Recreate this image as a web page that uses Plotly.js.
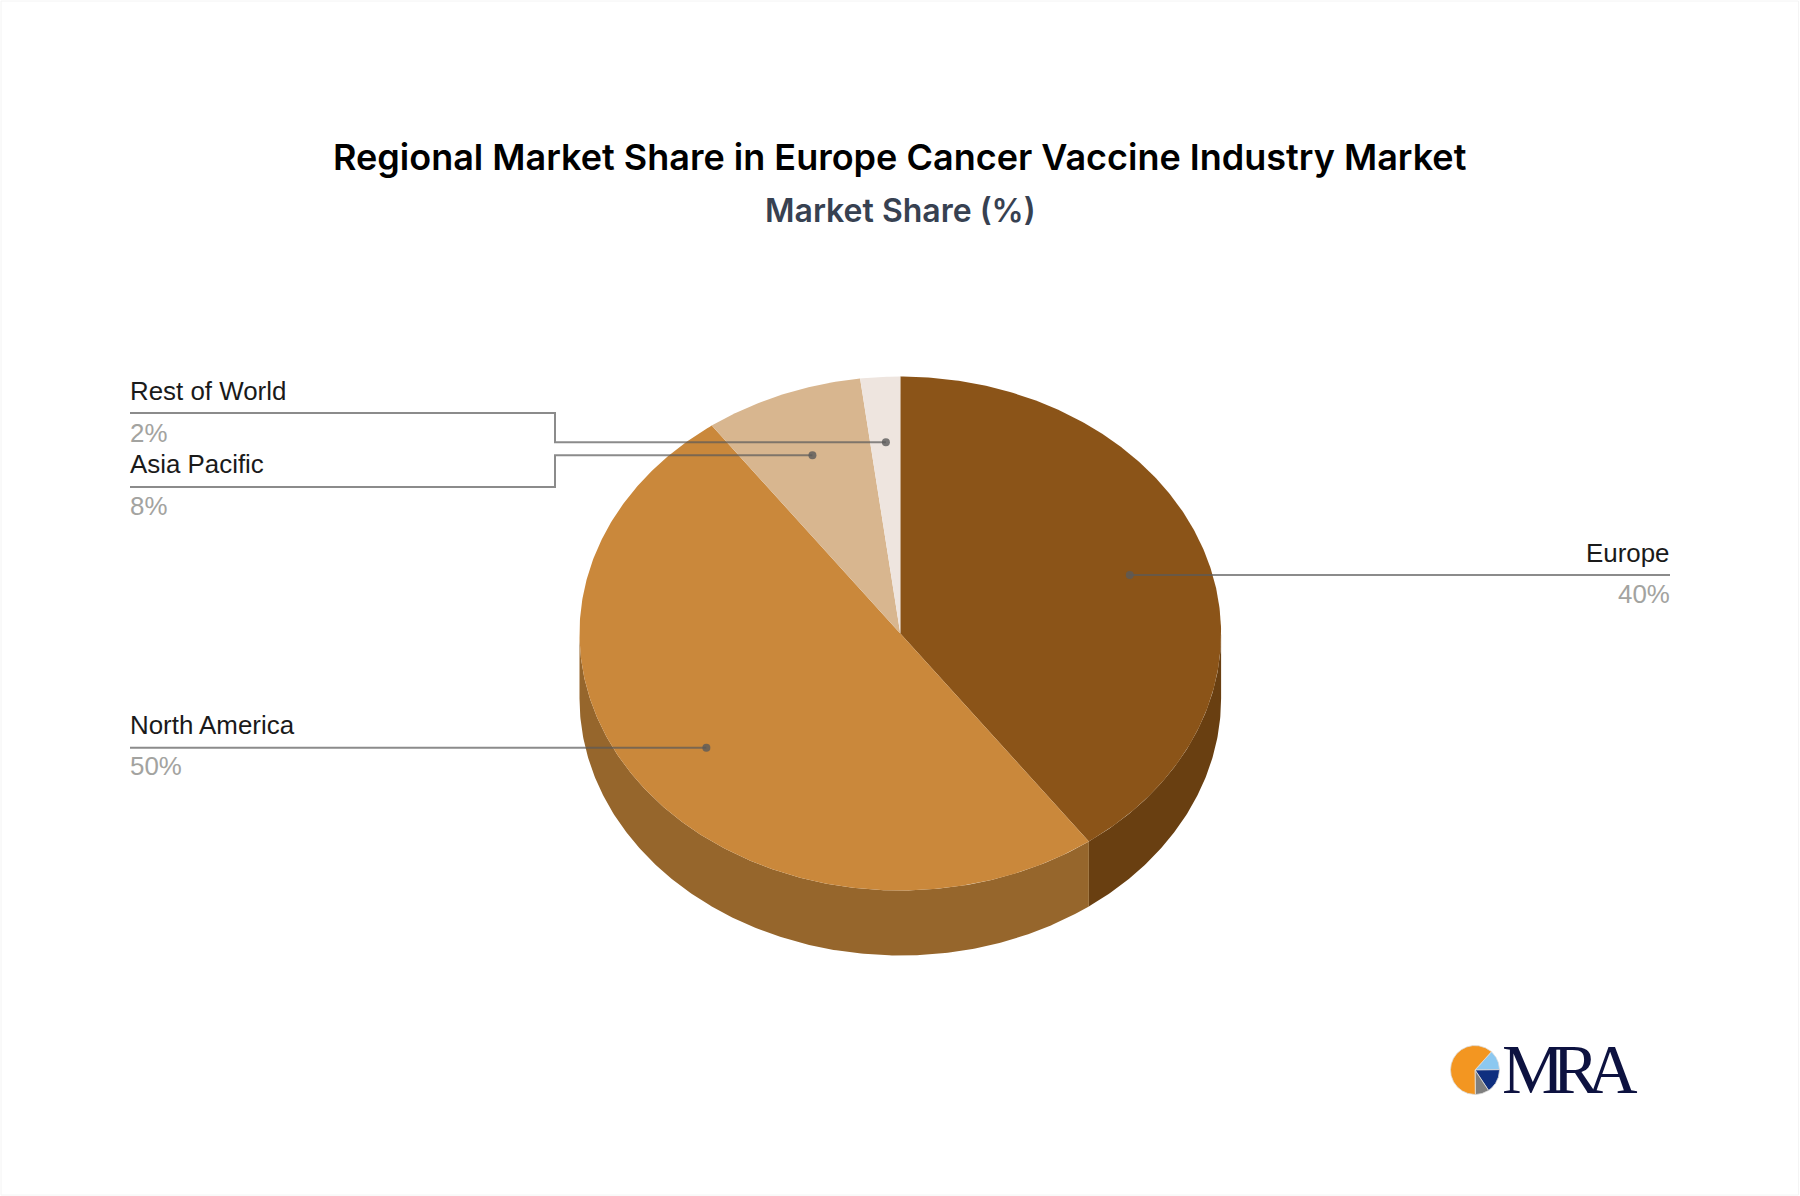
<!DOCTYPE html>
<html><head><meta charset="utf-8">
<script src="https://cdn.plot.ly/plotly-3.0.1.min.js"></script>
<style>html,body{margin:0;padding:0;background:#fff}#chart{width:1800px;height:1196px}</style>
</head><body><div id="chart"></div>
<script>
const categories = ['Europe', 'North America', 'Asia Pacific', 'Rest of World'];
const shares = [40, 50, 8, 2];
const topColors = ['#8B5418', '#CA883B', '#D8B68F', '#EEE5DF'];
const sideColors = ['#693F11', '#96662C'];
const logoShares = [13, 16, 9, 62];
const logoColors = ['#8CC8F0', '#0F2F7F', '#7F7F7F', '#F39621'];

const CX = 900.3, CY = 633.5, RX = 320.8, RY = 257, DEPTH = 65;
const rad = d => d * Math.PI / 180;
const px = (a, f = 1, rx = RX, cx = CX) => cx + rx * f * Math.sin(rad(a));
const py = (a, f = 1, ry = RY, cy = CY) => cy - ry * f * Math.cos(rad(a));

function arc(a0, a1, rx, ry, cx, cy, off) {
  const xs = [], ys = [];
  const n = Math.max(2, Math.ceil(Math.abs(a1 - a0) * 2));
  for (let i = 0; i <= n; i++) {
    const a = a0 + (a1 - a0) * i / n;
    xs.push(px(a, 1, rx, cx));
    ys.push(py(a, 1, ry, cy) + off);
  }
  return [xs, ys];
}
function fillTrace(xs, ys, color, name, lw, lc) {
  return { type: 'scatter', mode: 'lines', x: xs, y: ys, fill: 'toself', fillcolor: color,
           line: { width: lw || 0, color: lc || color }, hoverinfo: 'skip', name: name, showlegend: false };
}

const total = shares.reduce((s, v) => s + v, 0);
const starts = [];
shares.reduce((acc, v, i) => { starts[i] = acc; return acc + v / total * 360; }, 0);
const ends = shares.map((v, i) => starts[i] + v / total * 360);
const mids = shares.map((v, i) => (starts[i] + ends[i]) / 2);

const traces = [];
[0, 1].forEach(i => {
  const a0 = Math.max(starts[i], 90), a1 = Math.min(ends[i], 270);
  const [tx, ty] = arc(a0, a1, RX, RY, CX, CY, 0);
  const [bx, by] = arc(a1, a0, RX, RY, CX, CY, DEPTH);
  traces.push(fillTrace(tx.concat(bx), ty.concat(by), sideColors[i], categories[i] + ' side'));
});
categories.forEach((c, i) => {
  const [ax, ay] = arc(starts[i], ends[i], RX, RY, CX, CY, 0);
  traces.push(fillTrace([CX].concat(ax, [CX]), [CY].concat(ay, [CY]), topColors[i], c));
});

const LEFT = 130, RIGHT = 1670, BEND = 555;
const leaderY = { 'Europe': 575, 'North America': 747, 'Asia Pacific': 487, 'Rest of World': 413 };
const lineColor = 'rgba(90,90,90,0.7)';
categories.forEach((c, i) => {
  const dx = px(mids[i], 0.75) + 0.7, dy = py(mids[i], 0.75) + 1;
  const ly = leaderY[c];
  let xs, ys;
  if (c === 'Europe' || c === 'North America') {
    xs = [c === 'Europe' ? RIGHT : LEFT, dx]; ys = [dy, dy];
  } else {
    xs = [LEFT, BEND, BEND, dx]; ys = [ly, ly, dy, dy];
  }
  traces.push({ type: 'scatter', mode: 'lines', x: xs, y: ys, hoverinfo: 'skip', showlegend: false,
                line: { color: lineColor, width: 2 } });
  traces.push({ type: 'scatter', mode: 'markers', x: [dx], y: [dy], hoverinfo: 'skip', showlegend: false,
                marker: { color: 'rgba(90,90,90,0.8)', size: 8, line: { width: 0 } } });
});

const LX = 1475, LY = 1070, LR = 24.5;
let la = 42;
logoShares.forEach((v, i) => {
  const a1 = la + v / 100 * 360;
  const [ax, ay] = arc(la, a1, LR, LR, LX, LY, 0);
  traces.push(fillTrace([LX].concat(ax, [LX]), [LY].concat(ay, [LY]), logoColors[i], 'logo ' + i, 0.8, '#dddddd'));
  la = a1;
});

const labelFont = { family: '"Liberation Sans", Arial, sans-serif', size: 25.9, color: '#1a1a1a' };
const pctFont = { family: '"Liberation Sans", Arial, sans-serif', size: 25.9, color: '#a3a3a0' };
const annotations = [];
const textPos = {
  'Europe': [1670, 562, 603, 'right'],
  'North America': [130, 734, 775, 'left'],
  'Asia Pacific': [130, 473, 515, 'left'],
  'Rest of World': [130, 400, 442, 'left']
};
const TEXT_SHIFT = 4.8;
categories.forEach((c, i) => {
  const [x, y1, y2, anchor] = textPos[c];
  annotations.push({ xref: 'x', yref: 'y', x: x, y: y1 + TEXT_SHIFT, text: c, showarrow: false, xanchor: anchor, yanchor: 'bottom', font: labelFont, borderpad: 0, borderwidth: 0 });
  annotations.push({ xref: 'x', yref: 'y', x: x, y: y2 + TEXT_SHIFT, text: shares[i] + '%', showarrow: false, xanchor: anchor, yanchor: 'bottom', font: pctFont, borderpad: 0, borderwidth: 0 });
});
annotations.push({ xref: 'x', yref: 'y', x: 900, y: 157, text: 'Regional Market Share in Europe Cancer Vaccine Industry Market', showarrow: false, xanchor: 'center', yanchor: 'middle',
  font: { family: 'Inter, sans-serif', size: 36, color: '#000000', weight: 600 } });
annotations.push({ xref: 'x', yref: 'y', x: 900, y: 210, text: 'Market Share (%)', showarrow: false, xanchor: 'center', yanchor: 'middle',
  font: { family: 'Inter, sans-serif', size: 32, color: '#374151', weight: 600 } });
annotations.push({ xref: 'x', yref: 'y', x: 1481.5, y: 1069, text: 'MRA', showarrow: false, xanchor: 'left', yanchor: 'middle',
  font: { family: '"Liberation Serif", serif', size: 70, color: '#0D1240' } });

const layout = {
  width: 1800, height: 1196, margin: { l: 0, r: 0, t: 0, b: 0 },
  paper_bgcolor: '#fff', plot_bgcolor: '#fff', showlegend: false,
  xaxis: { range: [0, 1800], visible: false, fixedrange: true },
  yaxis: { range: [1196, 0], visible: false, fixedrange: true },
  annotations: annotations,
  shapes: [{ type: 'rect', xref: 'x', yref: 'y', x0: 1, y0: 1, x1: 1798.5, y1: 1195, line: { color: '#f4f4f4', width: 1 }, layer: 'below' }]
};
Plotly.newPlot('chart', traces, layout, { displayModeBar: false, staticPlot: true }).then(() => {
  document.querySelectorAll('.annotation-text').forEach(t => {
    if (t.textContent === 'MRA') t.style.letterSpacing = '-12px';
  });
});
</script></body></html>
